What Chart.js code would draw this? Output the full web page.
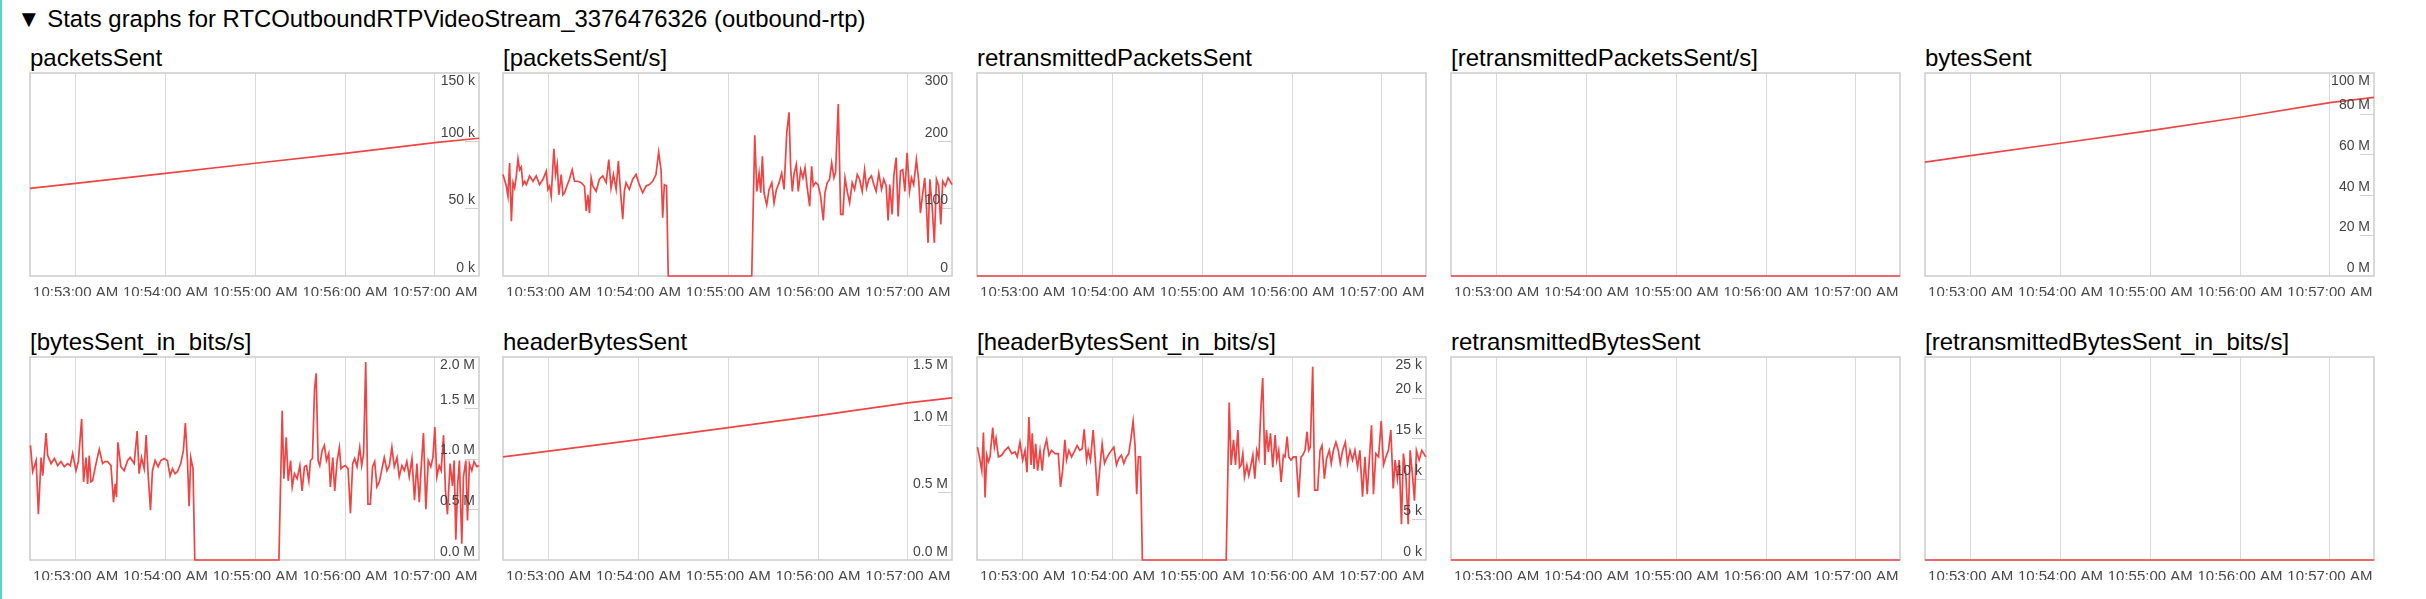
<!DOCTYPE html>
<html>
<head>
<meta charset="utf-8">
<script src="https://cdn.jsdelivr.net/npm/chart.js@4.4.1/dist/chart.umd.min.js"></script>
<style>
  html, body { margin: 0; background: #fff; }
  body { width: 2426px; height: 599px; position: relative; overflow: hidden;
         font-family: 'Liberation Sans', Arial, sans-serif; }
  #edge { position: absolute; left: 0; top: 0; width: 2px; height: 599px; background: #55d6c8; }
  #head { position: absolute; left: 17px; top: 7px; font-size: 23.9px; line-height: 1; white-space: nowrap; color: #000; }
  .title { position: absolute; font-size: 24px; line-height: 1; white-space: nowrap; color: #000; }
  canvas { position: absolute; }
</style>
</head>
<body>
<div id="edge"></div>
<div id="head">▼ Stats graphs for RTCOutboundRTPVideoStream_3376476326 (outbound-rtp)</div>
<script>
// ── Time axis (seconds after 10:52:00) ─────────────────────────────────────────
const xMin = 29.5, xMax = 329.5;
const xTickSecs   = [60, 120, 180, 240, 300];
const xTickLabels = ['10:53:00 AM', '10:54:00 AM', '10:55:00 AM', '10:56:00 AM', '10:57:00 AM'];

// ── Cumulative counters ────────────────────────────────────────────────────────
const cumT            = [29.5, 60, 120, 180, 240, 300, 329.5];
const packetsSent     = [64.7, 68.5, 75.9, 83.3, 90.6, 98.5, 101.8];      // k
const bytesSent       = [56.1, 59.3, 65.4, 71.6, 78.2, 85.4, 88.0];        // M
const headerBytesSent = [0.762, 0.804, 0.889, 0.978, 1.067, 1.161, 1.198]; // M
const flatT = [29.5, 329.5];
const zeros = [0, 0];

// ── Rates ──────────────────────────────────────────────────────────────────────
const pktRateT = [29.5,31.7,32.8,33.9,35.1,36.2,37.3,38.4,39.5,40.6,41.7,42.8,43.9,45.1,47.3,49.5,51.7,53.9,56.2,58.4,
  59.5,60.6,61.7,63.5,64.6,65.7,66.8,68.4,69.5,70.6,72.2,73.9,75.7,77.3,79.5,81.7,83.9,85.1,86.2,87.3,
  88.4,89.5,91.7,93.9,96.2,98.4,100.2,101.7,103.3,105.1,106.6,107.9,109.5,110.6,111.7,113.9,116.2,118.4,120.6,122.8,
  125.1,127.3,129.5,131.7,133.5,135.1,136.2,137.3,138.8,139.9,195.7,197.7,199.1,200.6,201.7,202.8,203.9,205.7,207.3,209.1,
  210.6,212.2,214.0,215.7,217.3,219.1,220.6,221.7,222.8,223.9,225.5,226.8,228.4,229.9,231.3,232.8,234.4,235.7,236.8,238.4,
  240.0,241.7,243.5,244.6,246.2,247.7,249.1,250.6,251.7,253.5,255.1,256.6,258.0,259.5,261.1,262.8,264.4,266.2,267.7,269.5,
  271.1,272.4,273.9,275.7,277.3,278.8,280.6,282.4,283.9,285.5,286.8,287.9,289.5,290.6,292.2,293.5,295.1,296.6,298.0,299.5,
  301.1,302.4,303.9,305.7,307.3,308.4,310.0,311.3,312.4,313.5,314.7,316.2,317.7,319.1,320.6,322.0,323.3,325.1,326.9,329.5];
const pktRate = [150,133,118,167,81,138,130,148,173,157,161,135,140,135,148,140,148,135,143,155,
  128,133,118,188,150,165,120,150,120,123,133,143,157,140,140,138,133,96,120,93,
  145,133,125,143,148,138,172,130,150,128,170,128,84,125,138,128,143,150,135,123,
  133,135,140,150,183,157,86,135,133,0,0,208,125,152,123,177,123,105,128,138,
  108,128,138,152,128,212,242,160,125,150,165,125,157,145,160,130,103,162,133,138,
  135,118,82,123,138,143,167,145,153,254,91,91,145,125,108,138,128,150,143,125,
  157,130,143,148,135,125,152,128,143,133,82,135,91,148,175,88,155,157,125,182,
  125,145,135,172,140,93,123,145,103,49,143,103,49,143,133,76,140,133,145,135];

const bitRateT = [29.8,31.3,33.6,35.1,36.9,38.0,40.2,41.3,43.6,45.8,48.0,50.2,52.4,54.7,56.4,58.0,60.2,61.8,64.0,65.3,
  66.9,68.0,69.1,70.2,71.3,73.6,75.8,78.0,79.6,81.3,83.6,85.3,86.4,87.3,88.2,90.2,92.4,94.7,96.4,99.1,
  101.1,102.4,104.0,105.8,107.1,108.4,110.0,111.3,113.1,115.1,116.9,119.1,121.3,123.1,124.7,126.4,128.0,130.2,132.0,133.3,
  134.7,135.8,136.9,138.4,139.6,195.8,198.0,199.1,200.7,202.0,203.6,204.7,206.2,208.0,209.8,211.3,212.9,214.2,215.8,216.9,
  218.2,219.6,220.7,222.0,223.1,224.7,226.2,227.6,229.1,230.2,231.8,233.1,234.7,236.2,237.3,238.7,240.2,242.0,243.6,245.1,
  246.4,248.0,249.8,251.1,252.4,253.8,255.3,256.9,258.4,259.8,261.3,262.9,264.7,266.2,268.0,269.6,271.3,272.9,274.7,276.2,
  278.0,279.6,281.3,282.9,284.7,286.4,288.0,289.6,290.9,292.4,294.0,295.6,297.3,298.7,300.0,301.3,302.9,304.2,305.8,307.1,
  308.4,310.2,311.8,312.9,314.0,315.3,316.4,318.0,319.1,320.7,321.8,323.1,324.7,326.2,328.0,329.5];
const bitRate = [1.13,0.87,0.98,0.45,1.01,0.83,1.25,1.03,0.95,1.00,0.93,0.97,0.92,0.95,0.93,1.05,0.88,0.97,1.39,0.77,
  1.01,0.75,1.03,0.77,0.78,0.95,1.09,0.95,0.97,0.97,0.93,0.57,0.75,0.62,1.16,0.92,0.88,0.98,1.01,0.95,
  1.27,0.85,1.01,0.90,1.23,0.85,0.49,0.88,0.98,0.92,0.98,1.00,0.98,0.83,0.90,0.85,0.87,0.95,1.08,1.35,
  0.98,0.53,1.01,0.90,0,0,1.47,0.80,1.21,0.78,0.98,0.72,0.85,0.80,0.93,0.68,0.92,0.93,0.78,0.98,
  1.00,1.68,1.84,0.98,0.93,1.08,1.13,0.98,1.05,0.72,1.01,0.68,0.98,1.11,0.90,0.92,0.93,0.90,0.46,0.95,
  1.00,0.92,1.11,0.93,1.05,1.95,0.55,0.55,0.92,0.97,0.72,0.77,0.90,1.01,0.88,0.93,1.11,0.92,1.01,0.82,
  0.93,0.88,0.97,0.82,1.00,0.59,0.95,0.57,0.92,1.25,0.50,0.98,0.92,1.01,1.31,0.82,0.93,0.88,1.23,0.68,
  0.45,0.95,0.73,0.98,0.20,0.75,0.98,0.16,0.82,0.98,0.39,0.95,0.88,0.97,0.92,0.93];

const hdrRateT = [29.8,31.1,32.7,33.8,34.9,36.0,37.1,38.2,40.0,41.1,42.2,43.8,46.0,48.2,50.4,52.7,54.9,56.4,58.2,60.0,
  61.6,62.9,64.2,65.6,66.4,67.6,68.7,70.0,71.6,73.1,74.2,76.0,77.6,79.3,81.6,83.8,85.3,86.7,88.2,89.3,
  90.9,92.7,94.9,96.4,98.2,99.8,101.1,102.7,103.8,105.3,107.1,108.4,110.0,111.6,113.1,114.7,116.0,117.8,119.3,120.9,
  122.7,124.2,126.0,127.6,129.3,130.9,132.4,133.8,135.1,136.2,137.3,138.7,140.0,196.0,198.0,199.3,200.9,202.2,203.8,204.9,
  206.0,207.1,208.2,209.8,211.1,212.2,213.8,215.1,216.4,217.8,219.3,220.4,221.8,222.9,224.2,225.6,227.1,228.7,229.8,231.1,
  232.7,234.2,235.3,236.7,237.8,239.3,240.9,242.7,244.4,246.0,247.1,248.7,250.0,251.1,252.2,253.8,255.1,257.1,258.7,260.0,
  261.6,263.1,264.9,266.2,267.6,269.3,270.9,272.2,273.8,275.6,277.1,278.7,280.4,282.0,283.8,285.3,287.1,288.7,290.2,291.6,
  293.1,294.4,296.0,297.8,299.6,301.1,302.7,304.4,306.0,307.6,308.9,310.4,311.6,313.1,314.4,316.0,317.6,318.9,320.4,321.8,
  323.1,324.9,326.7,329.3];
const hdrRate = [13.9,12.7,11.0,15.7,7.7,12.9,12.1,12.7,16.3,13.9,15.0,12.7,12.9,13.5,13.9,13.1,13.3,12.7,14.5,12.3,
  13.5,10.8,17.6,11.7,15.6,11.2,14.3,11.0,13.5,11.0,13.5,14.8,12.9,13.5,13.1,13.1,9.0,11.0,14.8,12.3,
  13.5,12.7,13.5,14.1,13.5,13.7,16.1,12.3,13.5,12.3,16.0,12.7,7.9,11.4,14.3,11.9,12.5,13.1,13.5,13.9,
  11.7,12.5,12.9,11.9,12.7,13.1,15.0,17.1,14.1,8.1,12.7,12.7,0,0,19.4,11.7,14.8,11.7,16.0,11.4,
  11.7,13.1,10.2,11.7,10.4,11.4,12.9,10.0,13.5,12.5,19.1,22.4,11.7,16.0,13.3,15.6,11.4,15.4,12.3,13.5,
  9.6,12.9,12.7,15.2,12.7,12.3,12.7,12.7,7.7,12.7,12.9,13.5,15.8,13.5,13.9,23.8,8.6,8.6,13.5,14.1,
  10.0,12.5,13.5,11.9,13.5,14.5,13.5,11.9,13.5,14.5,11.9,13.5,12.3,13.5,11.4,13.5,7.8,12.7,8.1,12.3,
  16.6,8.1,13.1,12.7,17.1,11.7,12.7,13.5,16.0,8.8,12.3,10.0,12.3,4.4,13.1,10.6,4.4,13.5,10.6,7.3,
  13.5,12.3,13.5,12.7];

// ── Y tick values and labels ───────────────────────────────────────────────────
const pktTicks  = [0, 50, 100, 150];        const pktLabels  = ['0 k', '50 k', '100 k', '150 k'];
const pktsTicks = [0, 100, 200, 300];       const pktsLabels = ['0', '100', '200', '300'];
const byteTicks = [0, 20, 40, 60, 80, 100]; const byteLabels = ['0 M', '20 M', '40 M', '60 M', '80 M', '100 M'];
const bitTicks  = [0, 0.5, 1, 1.5, 2];      const bitLabels  = ['0.0 M', '0.5 M', '1.0 M', '1.5 M', '2.0 M'];
const hdrTicks  = [0, 0.5, 1, 1.5];         const hdrLabels  = ['0.0 M', '0.5 M', '1.0 M', '1.5 M'];
const hbitTicks = [0, 5, 10, 15, 20, 25];   const hbitLabels = ['0 k', '5 k', '10 k', '15 k', '20 k', '25 k'];

// title, x values, y values, ticks, labels
const graphs = [
  ['packetsSent',                        cumT,     packetsSent,     pktTicks,  pktLabels],
  ['[packetsSent/s]',                    pktRateT, pktRate,         pktsTicks, pktsLabels],
  ['retransmittedPacketsSent',           flatT,    zeros,           [],        []],
  ['[retransmittedPacketsSent/s]',       flatT,    zeros,           [],        []],
  ['bytesSent',                          cumT,     bytesSent,       byteTicks, byteLabels],
  ['[bytesSent_in_bits/s]',              bitRateT, bitRate,         bitTicks,  bitLabels],
  ['headerBytesSent',                    cumT,     headerBytesSent, hdrTicks,  hdrLabels],
  ['[headerBytesSent_in_bits/s]',        hdrRateT, hdrRate,         hbitTicks, hbitLabels],
  ['retransmittedBytesSent',             flatT,    zeros,           [],        []],
  ['[retransmittedBytesSent_in_bits/s]', flatT,    zeros,           [],        []]
];

// ── Layout ─────────────────────────────────────────────────────────────────────
const PLOT_W = 449, PLOT_H = 203, PAD = 10, X_AXIS_H = 20;
const colLeft = [30, 503, 977, 1451, 1925];
const rowTop  = [73, 357];
const FONT = "'Liberation Sans', Arial, sans-serif";

// frame around the plot, short marks and labels on the right-hand side
const frame = {
  id: 'frame',
  beforeDatasetsDraw(chart) {
    const { ctx, chartArea: a } = chart;
    const y = chart.scales.y;
    ctx.save();
    ctx.strokeStyle = '#cccccc';
    ctx.lineWidth = 1.5;
    ctx.strokeRect(a.left, a.top, a.right - a.left, a.bottom - a.top);
    ctx.strokeStyle = '#d0d0d0';
    ctx.lineWidth = 1;
    y.ticks.forEach((tk, i) => {
      if (i === 0 || i === y.ticks.length - 1) return;
      const py = Math.round(y.getPixelForValue(tk.value)) + 0.5;
      ctx.beginPath();
      ctx.moveTo(a.right - 14, py);
      ctx.lineTo(a.right, py);
      ctx.stroke();
    });
    ctx.restore();
  },
  afterDatasetsDraw(chart, args, opts) {
    const { ctx, chartArea: a } = chart;
    const y = chart.scales.y;
    const last = y.ticks.length - 1;
    ctx.save();
    ctx.font = '14px ' + FONT;
    ctx.fillStyle = '#444';
    ctx.textAlign = 'right';
    ctx.textBaseline = 'middle';
    y.ticks.forEach((tk, i) => {
      const py = y.getPixelForValue(tk.value) + (i === last ? 8 : -8);
      ctx.fillText(opts.labels[i], a.right - 4, py);
    });
    ctx.restore();
  }
};

graphs.forEach(([title, xs, ys, ticks, labels], i) => {
  const left = colLeft[i % 5], top = rowTop[Math.floor(i / 5)];

  const t = document.createElement('div');
  t.className = 'title';
  t.textContent = title;
  t.style.left = left + 'px';
  t.style.top = (top - 27) + 'px';
  document.body.appendChild(t);

  const cv = document.createElement('canvas');
  cv.width = PLOT_W + 2 * PAD;
  cv.height = PLOT_H + PAD + X_AXIS_H + 20;
  cv.style.left = (left - PAD) + 'px';
  cv.style.top = (top - PAD) + 'px';
  document.body.appendChild(cv);

  new Chart(cv, {
    type: 'line',
    data: {
      datasets: [{
        data: xs.map((x, k) => ({ x, y: ys[k] })),
        borderColor: '#ee4444',
        borderWidth: 1.7,
        pointRadius: 0,
        tension: 0,
        fill: false,
        clip: 4
      }]
    },
    plugins: [frame],
    options: {
      responsive: false,
      animation: false,
      events: [],
      layout: { padding: { left: PAD, right: PAD, top: PAD, bottom: 20 } },
      plugins: { legend: { display: false }, tooltip: { enabled: false }, frame: { labels } },
      scales: {
        x: {
          type: 'linear', min: xMin, max: xMax,
          afterBuildTicks: s => { s.ticks = xTickSecs.map(v => ({ value: v })); },
          afterFit: s => { s.height = X_AXIS_H; },
          grid: { color: '#d9d9d9', lineWidth: 1, drawTicks: false },
          border: { display: false },
          ticks: {
            autoSkip: false, maxRotation: 0, padding: 8,
            color: '#4a4a4a', font: { family: FONT, size: 15 },
            callback: (v, k) => xTickLabels[k]
          }
        },
        y: {
          type: 'linear', position: 'right',
          min: 0, max: ticks.length ? ticks[ticks.length - 1] : 1,
          afterBuildTicks: s => { s.ticks = ticks.map(v => ({ value: v })); },
          afterFit: s => { s.width = 0; },
          grid: { display: false },
          border: { display: false },
          ticks: { display: false }
        }
      }
    }
  });
});
</script>
</body>
</html>
